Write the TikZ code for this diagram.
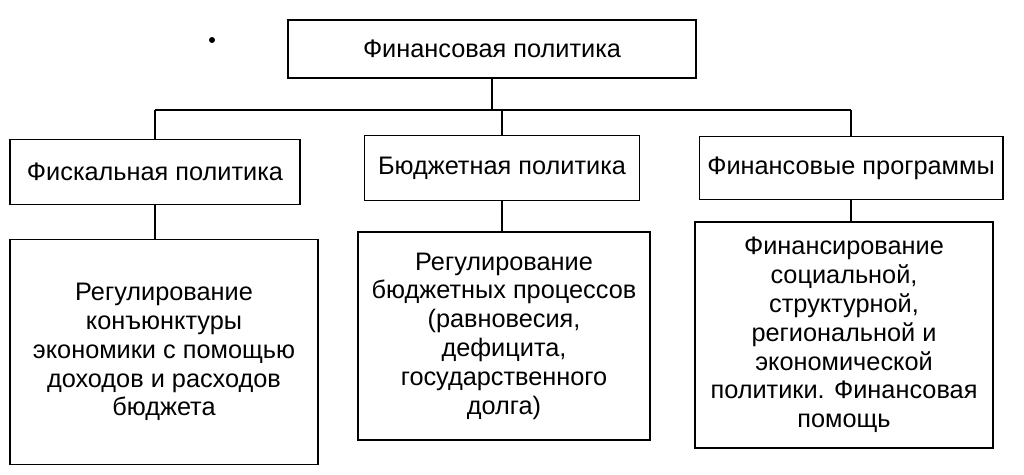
\documentclass[tikz,border=0pt]{standalone}
\usepackage{fontspec}
\setmainfont{Liberation Sans}
\begin{document}
\begin{tikzpicture}[x=0.025cm,y=-0.025cm,
  box/.style={draw,line width=1.4pt,inner sep=0pt,align=center,font=\fontsize{18pt}{20.5pt}\selectfont},
  conn/.style={line width=1.2pt}]
\useasboundingbox (0,0) rectangle (1024,474);
\fill[white] (0,0) rectangle (1024,474);
\node[box,minimum width=408*0.025cm,minimum height=58*0.025cm] (top) at (492,49) {Финансовая политика};
\coordinate (j) at (492,110);
% row 2
\node[box,minimum width=290*0.025cm,minimum height=65*0.025cm] (f) at (155,172) {Фискальная политика};
\node[box,minimum width=275*0.025cm,minimum height=65*0.025cm] (b) at (502,168) {Бюджетная политика};
\node[box,minimum width=303*0.025cm,minimum height=63*0.025cm] (p) at (851,168) {Финансовые программы};
% row 3
\node[box,minimum width=308*0.025cm,minimum height=225*0.025cm] (f2) at (164,352)
 {Регулирование\\конъюнктуры\\экономики с помощью\\доходов и расходов\\бюджета};
\node[box,minimum width=292*0.025cm,minimum height=208*0.025cm] (b2) at (504,336)
 {Регулирование\\бюджетных процессов\\(равновесия,\\дефицита,\\государственного\\долга)};
\node[box,minimum width=298*0.025cm,minimum height=226*0.025cm] (p2) at (844,335)
 {Финансирование\\социальной,\\структурной,\\региональной и\\экономической\\политики. Финансовая\\помощь};
% connectors
\draw[conn] (top.south) -- (j);
\draw[conn] (f.north |- j) -- (p.north |- j);
\draw[conn] (f.north |- j) -- (f.north);
\draw[conn] (b.north |- j) -- (b.north);
\draw[conn] (p.north |- j) -- (p.north);
\draw[conn] (f.south) -- (f.south |- f2.north);
\draw[conn] (b.south) -- (b.south |- b2.north);
\draw[conn] (p.south) -- (p.south |- p2.north);
\fill (212,40) circle (3);
\end{tikzpicture}
\end{document}
